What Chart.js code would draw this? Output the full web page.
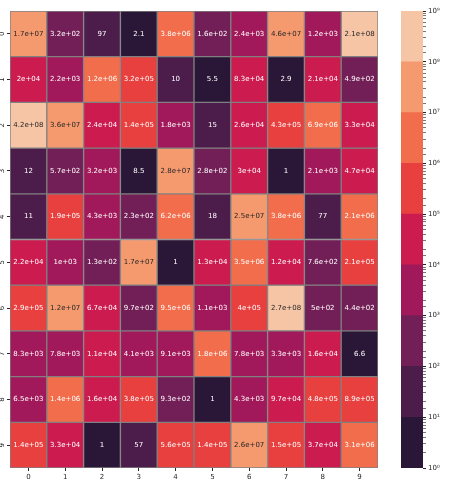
<!DOCTYPE html>
<html>
<head>
<meta charset="utf-8">
<script src="https://cdn.jsdelivr.net/npm/chart.js@4.4.1/dist/chart.umd.min.js"></script>
<style>
  html, body { margin: 0; padding: 0; background: #fff; }
  #wrap { position: relative; width: 474px; height: 487px; overflow: hidden; }
  #heat { position: absolute; left: -6px; top: 0; }
  #cbar { position: absolute; left: 395px; top: 0; }
</style>
</head>
<body>
<div id="wrap">
  <canvas id="heat" width="390" height="487"></canvas>
  <canvas id="cbar" width="79" height="487"></canvas>
</div>
<script>
// columns and rows of the heatmap
const xLabels = ['0', '1', '2', '3', '4', '5', '6', '7', '8', '9'];
const yLabels = ['0', '1', '2', '3', '4', '5', '6', '7', '8', '9'];

// cell values, read row by row from top
const row0 = [1.7e7, 3.2e2, 97, 2.1, 3.8e6, 1.6e2, 2.4e3, 4.6e7, 1.2e3, 2.1e8];
const row1 = [2e4, 2.2e3, 1.2e6, 3.2e5, 10, 5.5, 8.3e4, 2.9, 2.1e4, 4.9e2];
const row2 = [4.2e8, 3.6e7, 2.4e4, 1.4e5, 1.8e3, 15, 2.6e4, 4.3e5, 6.9e6, 3.3e4];
const row3 = [12, 5.7e2, 3.2e3, 8.5, 2.8e7, 2.8e2, 3e4, 1, 2.1e3, 4.7e4];
const row4 = [11, 1.9e5, 4.3e3, 2.3e2, 6.2e6, 18, 2.5e7, 3.8e6, 77, 2.1e6];
const row5 = [2.2e4, 1e3, 1.3e2, 1.7e7, 1, 1.3e4, 3.5e6, 1.2e4, 7.6e2, 2.1e5];
const row6 = [2.9e5, 1.2e7, 6.7e4, 9.7e2, 9.5e6, 1.1e3, 4e5, 2.7e8, 5e2, 4.4e2];
const row7 = [8.3e3, 7.8e3, 1.1e4, 4.1e3, 9.1e3, 1.8e6, 7.8e3, 3.3e3, 1.6e4, 6.6];
const row8 = [6.5e3, 1.4e6, 1.6e4, 3.8e5, 9.3e2, 1, 4.3e3, 9.7e4, 4.8e5, 8.9e5];
const row9 = [1.4e5, 3.3e4, 1, 57, 5.6e5, 1.4e5, 2.6e7, 1.5e5, 3.7e4, 3.1e6];
const cellValues = [row0, row1, row2, row3, row4, row5, row6, row7, row8, row9];

// colorbar decades 10^0 .. 10^9
const cbarExponents = [0, 1, 2, 3, 4, 5, 6, 7, 8, 9];

// rocket, 9 steps (one per decade)
const binColors = ['#2a1737', '#4c1c4a', '#731f57', '#a1195a', '#cb1b4f',
                   '#e83f3f', '#f26d4b', '#f59a6f', '#f6c5a6'];

const INK = '#262626';
const SUP = ['\u2070', '\u00b9', '\u00b2', '\u00b3', '\u2074', '\u2075', '\u2076', '\u2077', '\u2078', '\u2079'];

Chart.defaults.font.family = '"DejaVu Sans", sans-serif';
Chart.defaults.font.size = 7;
Chart.defaults.color = INK;

function binOf(v) {
  return Math.min(8, Math.max(0, Math.floor(Math.log10(v) + 1e-9)));
}

function luminance(hex) {
  const c = [1, 3, 5].map(i => parseInt(hex.substr(i, 2), 16) / 255)
    .map(x => x <= 0.03928 ? x / 12.92 : Math.pow((x + 0.055) / 1.055, 2.4));
  return 0.2126 * c[0] + 0.7152 * c[1] + 0.0722 * c[2];
}

// same as python's '%.2g'
function fmt2g(v) {
  const parts = v.toExponential(1).split('e');
  const ex = parseInt(parts[1], 10);
  if (ex < -4 || ex >= 2) {
    const mant = parts[0].replace(/\.0$/, '');
    return mant + 'e' + (ex < 0 ? '-' : '+') + String(Math.abs(ex)).padStart(2, '0');
  }
  return String(Number(v.toPrecision(2)));
}

function isDecade(v) {
  const e = Math.log10(v);
  return Math.abs(e - Math.round(e)) < 1e-6;
}

// writes the value in the middle of each cell
const cellText = {
  id: 'cellText',
  afterDatasetsDraw(chart) {
    const ctx = chart.ctx;
    ctx.save();
    ctx.font = '7px "DejaVu Sans"';
    ctx.textAlign = 'center';
    ctx.textBaseline = 'middle';
    chart.data.datasets.forEach((ds, i) => {
      chart.getDatasetMeta(i).data.forEach((el, j) => {
        const p = el.getProps(['x', 'y', 'base'], true);
        const v = ds.values[j];
        ctx.fillStyle = luminance(binColors[binOf(v)]) > 0.408 ? INK : '#ffffff';
        ctx.fillText(fmt2g(v), p.x, (p.y + p.base) / 2);
      });
    });
    ctx.restore();
  }
};

new Chart(document.getElementById('heat'), {
  type: 'bar',
  data: {
    labels: xLabels,
    datasets: cellValues.map((row, r) => ({
      label: yLabels[r],
      data: row.map(() => [r, r + 1]),
      values: row,
      backgroundColor: row.map(v => binColors[binOf(v)]),
      borderColor: '#808080',
      borderWidth: 1,
      borderSkipped: false,
      grouped: false,
      barPercentage: 1,
      categoryPercentage: 1
    }))
  },
  options: {
    responsive: false,
    animation: false,
    layout: { padding: { left: 0, top: 11, right: 6, bottom: 0 } },
    plugins: { legend: { display: false }, tooltip: { enabled: false } },
    scales: {
      x: {
        type: 'category',
        grid: { offset: false, drawOnChartArea: false, tickLength: 3, color: INK },
        border: { display: false },
        ticks: { padding: 2, autoSkip: false, maxRotation: 0 },
        afterFit: s => { s.height = 19; }
      },
      y: {
        type: 'linear',
        min: 0,
        max: 10,
        reverse: true,
        afterBuildTicks: a => { a.ticks = yLabels.map((_, i) => ({ value: i + 0.5 })); },
        grid: { drawOnChartArea: false, tickLength: 3, color: INK },
        border: { display: false },
        ticks: {
          autoSkip: false,
          minRotation: 90,
          maxRotation: 90,
          crossAlign: 'center',
          padding: 3,
          callback: v => yLabels[Math.floor(v)]
        },
        afterFit: s => { s.width = 16; }
      }
    }
  },
  plugins: [cellText]
});

new Chart(document.getElementById('cbar'), {
  type: 'bar',
  data: {
    labels: ['cbar'],
    datasets: binColors.map((c, k) => ({
      data: [[Math.pow(10, cbarExponents[k]), Math.pow(10, cbarExponents[k + 1])]],
      backgroundColor: c,
      borderWidth: 0,
      grouped: false,
      barPercentage: 1,
      categoryPercentage: 1
    }))
  },
  options: {
    responsive: false,
    animation: false,
    layout: { padding: { left: 6, top: 11, right: 0, bottom: 19 } },
    plugins: { legend: { display: false }, tooltip: { enabled: false } },
    scales: {
      x: { display: false },
      y: {
        type: 'logarithmic',
        position: 'right',
        min: 1,
        max: 1e9,
        grid: {
          drawOnChartArea: false,
          tickLength: 3,
          color: c => (c.tick && isDecade(c.tick.value)) ? INK : '#555555',
          tickWidth: c => (c.tick && isDecade(c.tick.value)) ? 1 : 0.8
        },
        border: { display: false },
        ticks: {
          autoSkip: false,
          padding: 2,
          callback: v => isDecade(v) ? '10' + SUP[Math.round(Math.log10(v))] : ''
        },
        afterFit: s => { s.width = 51; }
      }
    }
  }
});
</script>
</body>
</html>
